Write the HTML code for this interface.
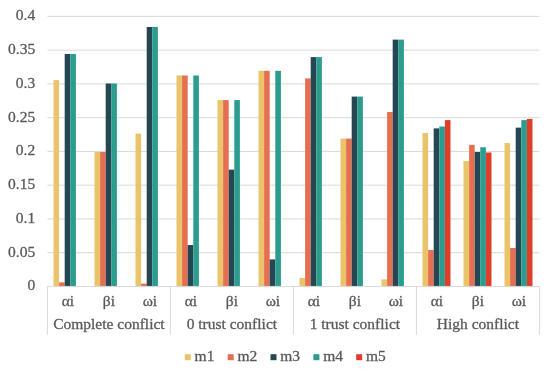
<!DOCTYPE html>
<html><head><meta charset="utf-8"><title>chart</title>
<style>
html,body{margin:0;padding:0;background:#fff;}
body{width:550px;height:374px;overflow:hidden;}
svg{display:block;}
text{font-family:"Liberation Serif","DejaVu Serif",serif;fill:#595959;stroke:#595959;stroke-width:0.3px;}
</style></head><body>
<svg width="550" height="374" viewBox="0 0 550 374">
<rect width="550" height="374" fill="#ffffff"/>

<g stroke="#D9D9D9" stroke-width="1" fill="none">
<line x1="47.4" y1="252.69" x2="539.4" y2="252.69"/>
<line x1="47.4" y1="218.93" x2="539.4" y2="218.93"/>
<line x1="47.4" y1="185.17" x2="539.4" y2="185.17"/>
<line x1="47.4" y1="151.41" x2="539.4" y2="151.41"/>
<line x1="47.4" y1="117.65" x2="539.4" y2="117.65"/>
<line x1="47.4" y1="83.89" x2="539.4" y2="83.89"/>
<line x1="47.4" y1="50.13" x2="539.4" y2="50.13"/>
<line x1="47.4" y1="16.37" x2="539.4" y2="16.37"/>
<line x1="47.40" y1="286.45" x2="47.40" y2="334.7"/>
<line x1="170.40" y1="286.45" x2="170.40" y2="334.7"/>
<line x1="293.40" y1="286.45" x2="293.40" y2="334.7"/>
<line x1="416.40" y1="286.45" x2="416.40" y2="334.7"/>
<line x1="539.40" y1="286.45" x2="539.40" y2="334.7"/>
</g>
<rect x="53.50" y="80.12" width="5.6" height="206.32" fill="#E9C46A"/>
<rect x="59.10" y="282.42" width="5.6" height="4.03" fill="#E76F51"/>
<rect x="64.70" y="54.00" width="5.6" height="232.45" fill="#264653"/>
<rect x="70.30" y="54.00" width="5.6" height="232.45" fill="#2A9D8F"/>
<rect x="94.50" y="152.01" width="5.6" height="134.44" fill="#E9C46A"/>
<rect x="100.10" y="152.01" width="5.6" height="134.44" fill="#E76F51"/>
<rect x="105.70" y="83.50" width="5.6" height="202.95" fill="#264653"/>
<rect x="111.30" y="83.50" width="5.6" height="202.95" fill="#2A9D8F"/>
<rect x="135.50" y="133.59" width="5.6" height="152.86" fill="#E9C46A"/>
<rect x="141.10" y="283.64" width="5.6" height="2.81" fill="#E76F51"/>
<rect x="146.70" y="27.00" width="5.6" height="259.45" fill="#264653"/>
<rect x="152.30" y="27.00" width="5.6" height="259.45" fill="#2A9D8F"/>
<rect x="176.50" y="75.47" width="5.6" height="210.98" fill="#E9C46A"/>
<rect x="182.10" y="75.47" width="5.6" height="210.98" fill="#E76F51"/>
<rect x="187.70" y="245.03" width="5.6" height="41.42" fill="#264653"/>
<rect x="193.30" y="75.47" width="5.6" height="210.98" fill="#2A9D8F"/>
<rect x="217.50" y="100.11" width="5.6" height="186.34" fill="#E9C46A"/>
<rect x="223.10" y="100.11" width="5.6" height="186.34" fill="#E76F51"/>
<rect x="228.70" y="169.63" width="5.6" height="116.82" fill="#264653"/>
<rect x="234.30" y="100.11" width="5.6" height="186.34" fill="#2A9D8F"/>
<rect x="258.50" y="70.81" width="5.6" height="215.64" fill="#E9C46A"/>
<rect x="264.10" y="70.81" width="5.6" height="215.64" fill="#E76F51"/>
<rect x="269.70" y="259.40" width="5.6" height="27.05" fill="#264653"/>
<rect x="275.30" y="70.81" width="5.6" height="215.64" fill="#2A9D8F"/>
<rect x="299.50" y="277.97" width="5.6" height="8.48" fill="#E9C46A"/>
<rect x="305.10" y="78.37" width="5.6" height="208.08" fill="#E76F51"/>
<rect x="310.70" y="57.11" width="5.6" height="229.34" fill="#264653"/>
<rect x="316.30" y="57.11" width="5.6" height="229.34" fill="#2A9D8F"/>
<rect x="340.50" y="138.58" width="5.6" height="147.87" fill="#E9C46A"/>
<rect x="346.10" y="138.58" width="5.6" height="147.87" fill="#E76F51"/>
<rect x="351.70" y="96.59" width="5.6" height="189.85" fill="#264653"/>
<rect x="357.30" y="96.59" width="5.6" height="189.85" fill="#2A9D8F"/>
<rect x="381.50" y="279.38" width="5.6" height="7.06" fill="#E9C46A"/>
<rect x="387.10" y="111.99" width="5.6" height="174.46" fill="#E76F51"/>
<rect x="392.70" y="39.62" width="5.6" height="246.82" fill="#264653"/>
<rect x="398.30" y="39.62" width="5.6" height="246.82" fill="#2A9D8F"/>
<rect x="422.50" y="133.05" width="5.6" height="153.40" fill="#E9C46A"/>
<rect x="428.10" y="250.02" width="5.6" height="36.43" fill="#E76F51"/>
<rect x="433.70" y="128.39" width="5.6" height="158.06" fill="#264653"/>
<rect x="439.30" y="126.50" width="5.6" height="159.95" fill="#2A9D8F"/>
<rect x="444.90" y="120.09" width="5.6" height="166.36" fill="#E03E2A"/>
<rect x="463.50" y="160.99" width="5.6" height="125.46" fill="#E9C46A"/>
<rect x="469.10" y="144.93" width="5.6" height="141.52" fill="#E76F51"/>
<rect x="474.70" y="152.01" width="5.6" height="134.44" fill="#264653"/>
<rect x="480.30" y="147.29" width="5.6" height="139.16" fill="#2A9D8F"/>
<rect x="485.90" y="152.48" width="5.6" height="133.97" fill="#E03E2A"/>
<rect x="504.50" y="143.03" width="5.6" height="143.41" fill="#E9C46A"/>
<rect x="510.10" y="248.00" width="5.6" height="38.45" fill="#E76F51"/>
<rect x="515.70" y="127.65" width="5.6" height="158.80" fill="#264653"/>
<rect x="521.30" y="120.09" width="5.6" height="166.36" fill="#2A9D8F"/>
<rect x="526.90" y="118.94" width="5.6" height="167.51" fill="#E03E2A"/>
<line x1="46.9" y1="286.45" x2="539.9" y2="286.45" stroke="#D9D9D9" stroke-width="1"/>
<g font-size="15.5" text-anchor="end">
<text x="35.2" y="290.35">0</text>
<text x="35.2" y="256.59">0.05</text>
<text x="35.2" y="222.83">0.1</text>
<text x="35.2" y="189.07">0.15</text>
<text x="35.2" y="155.31">0.2</text>
<text x="35.2" y="121.55">0.25</text>
<text x="35.2" y="87.79">0.3</text>
<text x="35.2" y="54.03">0.35</text>
<text x="35.2" y="20.27">0.4</text>
</g>
<g font-size="15.5" text-anchor="middle">
<text x="67.90" y="305.8">αi</text>
<text x="108.90" y="305.8">βi</text>
<text x="149.90" y="305.8">ωi</text>
<text x="190.90" y="305.8">αi</text>
<text x="231.90" y="305.8">βi</text>
<text x="272.90" y="305.8">ωi</text>
<text x="313.90" y="305.8">αi</text>
<text x="354.90" y="305.8">βi</text>
<text x="395.90" y="305.8">ωi</text>
<text x="436.90" y="305.8">αi</text>
<text x="477.90" y="305.8">βi</text>
<text x="518.90" y="305.8">ωi</text>
<text x="108.90" y="329.3">Complete conflict</text>
<text x="231.90" y="329.3">0 trust conflict</text>
<text x="354.90" y="329.3">1 trust conflict</text>
<text x="477.90" y="329.3">High conflict</text>
</g>
<g font-size="15.5">
<rect x="184.8" y="354.2" width="6" height="6" fill="#E9C46A"/>
<text x="194.6" y="361.2">m1</text>
<rect x="227.7" y="354.2" width="6" height="6" fill="#E76F51"/>
<text x="237.5" y="361.2">m2</text>
<rect x="270.5" y="354.2" width="6" height="6" fill="#264653"/>
<text x="280.3" y="361.2">m3</text>
<rect x="313.4" y="354.2" width="6" height="6" fill="#2A9D8F"/>
<text x="323.2" y="361.2">m4</text>
<rect x="356.2" y="354.2" width="6" height="6" fill="#E03E2A"/>
<text x="366.0" y="361.2">m5</text>
</g>
</svg></body></html>
